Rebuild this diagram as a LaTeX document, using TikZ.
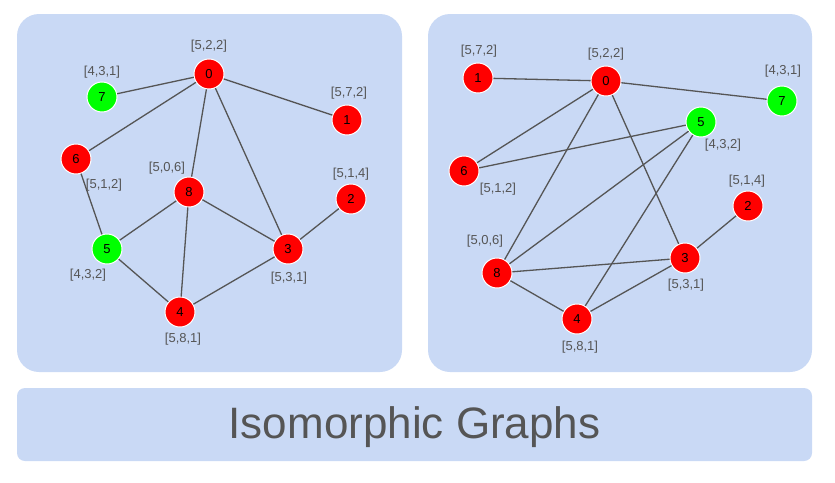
\documentclass[tikz,border=0pt]{standalone}
\usepackage{fontspec}
\setmainfont{Liberation Sans}
\begin{document}
\begin{tikzpicture}[x=1pt,y=-1pt,
  panel/.style={fill=bgblue,draw=none,rounded corners=22pt},
  vr/.style={circle,fill=red,draw=white,line width=1pt,minimum size=30pt,inner sep=0pt,font=\fontsize{13}{13}\selectfont},
  vg/.style={vr,fill=green},
  lab/.style={text=labgrey,font=\fontsize{13}{13}\selectfont},
  edge/.style={draw=edgegrey,line width=1.3pt}]
\definecolor{bgblue}{HTML}{C9D9F5}
\definecolor{labgrey}{HTML}{555555}
\definecolor{edgegrey}{HTML}{555555}
\useasboundingbox (0,0) rectangle (835,482);
\fill[panel] (17,14) rectangle (402,372);
\fill[panel] (428,14) rectangle (812,372);
\fill[bgblue,rounded corners=8pt] (17,388) rectangle (812,461);
\node[text=labgrey,font=\fontsize{44}{44}\selectfont] (title) at (414.5,427) {Isomorphic Graphs};
% left graph
\node[vr] (a0) at (209,74) {0};
\node[vg] (a7) at (102,97) {7};
\node[vr] (a1) at (347,120) {1};
\node[vr] (a6) at (76,159) {6};
\node[vr] (a8) at (189,192) {8};
\node[vr] (a2) at (351,199) {2};
\node[vg] (a5) at (107,249) {5};
\node[vr] (a3) at (288,249) {3};
\node[vr] (a4) at (180,312) {4};
\begin{scope}[on background layer/.style={}]
\end{scope}
\node[lab] (la0) at (209,46) {[5,2,2]};
\node[lab] (la7) at (102,72) {[4,3,1]};
\node[lab] (la1) at (349,93) {[5,7,2]};
\node[lab] (la8) at (167,168) {[5,0,6]};
\node[lab] (la6) at (104,185) {[5,1,2]};
\node[lab] (la2) at (351,174) {[5,1,4]};
\node[lab] (la5) at (88,275) {[4,3,2]};
\node[lab] (la3) at (289,278) {[5,3,1]};
\node[lab] (la4) at (183,339) {[5,8,1]};
% right graph
\node[vr] (b1) at (478,78) {1};
\node[vr] (b0) at (606,81) {0};
\node[vg] (b7) at (782,101) {7};
\node[vg] (b5) at (701,122) {5};
\node[vr] (b6) at (464,171) {6};
\node[vr] (b2) at (748,206) {2};
\node[vr] (b3) at (685,258) {3};
\node[vr] (b8) at (497,273) {8};
\node[vr] (b4) at (577,319) {4};
\node[lab] (lb1) at (479,51) {[5,7,2]};
\node[lab] (lb0) at (606,54) {[5,2,2]};
\node[lab] (lb7) at (783,71) {[4,3,1]};
\node[lab] (lb5) at (723,145) {[4,3,2]};
\node[lab] (lb6) at (498,189) {[5,1,2]};
\node[lab] (lb2) at (747,181) {[5,1,4]};
\node[lab] (lb8) at (485,241) {[5,0,6]};
\node[lab] (lb3) at (686,285) {[5,3,1]};
\node[lab] (lb4) at (580,347) {[5,8,1]};
\foreach \u/\v in {a0/a7,a0/a1,a0/a6,a0/a8,a0/a3,a6/a5,a8/a5,a8/a4,a8/a3,a5/a4,a4/a3,a3/a2,
  b1/b0,b0/b7,b0/b6,b0/b8,b0/b3,b5/b6,b5/b8,b5/b4,b8/b3,b8/b4,b4/b3,b3/b2}
  \draw[edge] (\u) -- (\v);
\end{tikzpicture}
\end{document}
